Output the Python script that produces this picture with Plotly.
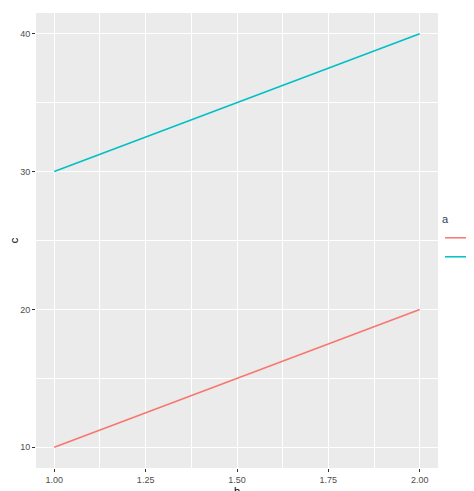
import plotly.graph_objects as go

b = [1, 2]
s_vals = [10, 20]
ss_vals = [30, 40]
xticks = [1.0, 1.25, 1.5, 1.75, 2.0]
xlabels = ["1.00", "1.25", "1.50", "1.75", "2.00"]
yticks = [10, 20, 30, 40]

fig = go.Figure()
fig.add_trace(go.Scatter(x=b, y=s_vals, mode="lines", name="s", line=dict(color="#F8766D", width=1.5)))
fig.add_trace(go.Scatter(x=b, y=ss_vals, mode="lines", name="ss", line=dict(color="#00BFC4", width=1.5)))

axis_common = dict(showgrid=True, gridcolor="white", gridwidth=1.2, zeroline=False,
                   ticks="outside", ticklen=3, tickcolor="#333333",
                   tickfont=dict(family="Liberation Sans, Arial", size=9, color="#4D4D4D"),
                   minor=dict(showgrid=True, gridcolor="white", gridwidth=0.5))
fig.update_xaxes(range=[0.95, 2.05], tickvals=xticks, ticktext=xlabels,
                 title=dict(text="b", font=dict(family="Liberation Sans, Arial", size=11, color="black"), standoff=0),
                 minor_tickvals=[1.125, 1.375, 1.625, 1.875], **axis_common)
fig.update_yaxes(range=[8.5, 41.5], tickvals=yticks,
                 title=dict(text="c", font=dict(family="Liberation Sans, Arial", size=11, color="black"), standoff=2),
                 minor_tickvals=[15, 25, 35], **axis_common)
fig.update_layout(
    width=474, height=491, plot_bgcolor="#EBEBEB", paper_bgcolor="white",
    margin=dict(l=28, r=44, t=5, b=31, autoexpand=False),
    legend=dict(title=dict(text="a", font=dict(size=11, family="Liberation Sans, Arial")),
                x=1.005, y=0.5, yanchor="middle", xanchor="left", itemwidth=30,
                font=dict(family="Liberation Sans, Arial", size=9), bgcolor="white"),
)
fig.write_html("out.html")
